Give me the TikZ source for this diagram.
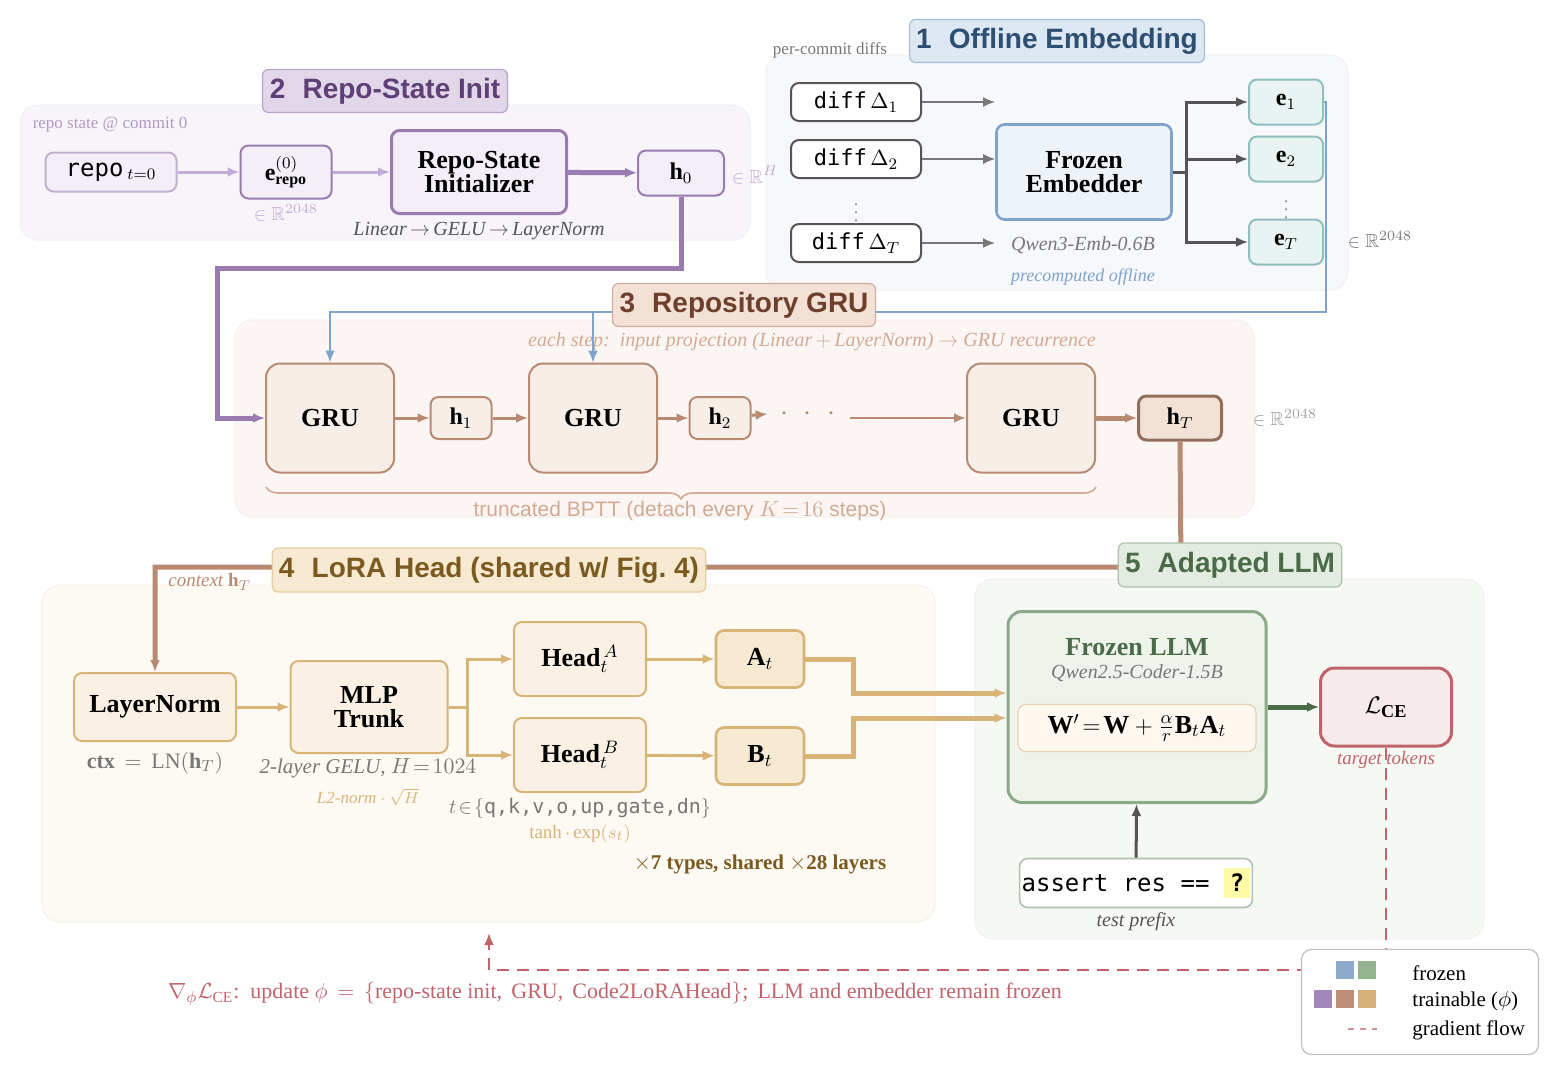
\documentclass[tikz,border=0pt]{standalone}
\usepackage{fontspec}
\usepackage{amsmath,amssymb}
\setmainfont{Liberation Serif}
\setsansfont{Liberation Sans}
\setmonofont{DejaVu Sans Mono}
\usetikzlibrary{arrows.meta,decorations.pathreplacing}
\newcommand\fsz[1]{\fontsize{#1}{#1}\selectfont}
\definecolor{pu}{HTML}{9A7BB0}\definecolor{puF}{HTML}{F3EEF7}\definecolor{puL}{HTML}{C2ABD6}\definecolor{puD}{HTML}{5E3F78}\definecolor{puBG}{HTML}{F8F5FA}
\definecolor{bl}{HTML}{7FA3C9}\definecolor{blF}{HTML}{EEF3F8}\definecolor{blD}{HTML}{2D4F73}\definecolor{blBG}{HTML}{F6F8FB}\definecolor{blT}{HTML}{DDE8F2}
\definecolor{br}{HTML}{B98A72}\definecolor{brF}{HTML}{F8EEE8}\definecolor{brT}{HTML}{F3E1D6}\definecolor{brD}{HTML}{6E3F2D}\definecolor{brL}{HTML}{D3A993}\definecolor{brBG}{HTML}{FBF6F3}
\definecolor{go}{HTML}{D8B477}\definecolor{goF}{HTML}{FAF1E4}\definecolor{goT}{HTML}{F8EAD2}\definecolor{goD}{HTML}{7A5A1F}\definecolor{goBG}{HTML}{FDFAF3}
\definecolor{gr}{HTML}{8AAA88}\definecolor{grD}{HTML}{4A6B47}\definecolor{grF}{HTML}{EEF3EC}\definecolor{grBG}{HTML}{F5F8F3}\definecolor{grT}{HTML}{E3ECE0}
\definecolor{rd}{HTML}{C0646C}\definecolor{rdF}{HTML}{F7EAEA}
\definecolor{te}{HTML}{8FBFBF}\definecolor{teF}{HTML}{E8F3F2}
\definecolor{gy}{HTML}{777777}\definecolor{dg}{HTML}{555555}
\definecolor{lq1}{HTML}{8EAACB}\definecolor{lq2}{HTML}{94B38F}\definecolor{lq3}{HTML}{A287B8}\definecolor{lq4}{HTML}{C08E78}\definecolor{lq5}{HTML}{D6B179}
\begin{document}
\begin{tikzpicture}[x=0.5pt,y=-0.5pt,
 bx/.style={draw,rounded corners=4pt,line width=1pt,align=center,inner sep=1pt},
 sec/.style={rounded corners=9pt,line width=0.5pt},
 ttl/.style={draw,rounded corners=3pt,line width=0.6pt,font=\sffamily\bfseries\fsz{14}},
 lbl/.style={inner sep=0pt,align=center},
 arr/.style={-{Latex[length=6pt,width=5pt]},line width=1pt},
 big/.style={font=\bfseries\fsz{13}},
]
\useasboundingbox[fill=white] (0,0) rectangle (1558,1076);
% section backgrounds
\path[sec,fill=blBG,draw=blF!70!gray!30] (766,55) rectangle (1348,290);
\path[sec,fill=puBG,draw=puF!70!gray!30] (20,105) rectangle (750,240);
\path[sec,fill=brBG,draw=brF!70!gray!30] (235,320) rectangle (1254,517);
\path[sec,fill=goBG,draw=goF!70!gray!30] (42,585) rectangle (935,922);
\path[sec,fill=grBG,draw=grF!70!gray!30] (975,579) rectangle (1484,939);

% ---------- section 1
\node[lbl,text=gy,font=\fsz{8.5}] (pcd) at (830,50) {per-commit diffs};
\foreach \n/\y/\s in {d1/102/1,d2/159/2,dT/243/T}
 \node[bx,draw=dg,fill=white,minimum width=65pt,minimum height=19pt,font=\ttfamily\fsz{11}] (\n) at (856,\y) {diff\,$\Delta_{\s}$};
\node[lbl,text=gy,font=\fsz{8}] (vd1) at (856,207) {$\vdots$};
\node[bx,draw=bl,fill=blF,line width=1.3pt,minimum width=87.5pt,minimum height=47.5pt,big] (emb) at (1084,172) {Frozen\\[-1pt]Embedder};
\coordinate (d1e) at (995,102); \coordinate (dTe) at (995,243);
\draw[arr,gy,line width=0.8pt] (d1) -- (d1e);
\draw[arr,gy,line width=0.8pt] (d2) -- (d2.east -| emb.west);
\draw[arr,gy,line width=0.8pt] (dT) -- (dTe);
\node[lbl,text=gy,font=\itshape\fsz{10}] (qe) at (1083,245) {Qwen3-Emb-0.6B};
\node[lbl,text=bl,font=\itshape\fsz{9}] (pre) at (1083,277) {precomputed offline};
\foreach \n/\y/\s in {e1/102/1,e2/159/2,eT/242/T}
 \node[bx,draw=te,fill=teF,minimum width=37pt,minimum height=22.5pt,font=\fsz{12}] (\n) at (1286,\y) {$\mathbf{e}_{\s}$};
\node[lbl,text=gy,font=\fsz{8}] (vd2) at (1286,204) {$\vdots$};
\coordinate (fk1) at (1186,172);
\draw[line width=1.5pt,dg] (emb.east) -- (fk1);
\foreach \n in {e1,e2,eT} \draw[arr,dg,line width=1.5pt] (fk1) |- (\n.west);
\node[lbl,text=gy,font=\fsz{9.5}] (r2048a) at (1380,240) {$\in\mathbb{R}^{2048}$};
\node[ttl,fill=blT,draw=bl!70,text=blD,minimum width=147pt,minimum height=21.5pt] (t1) at (1057,41) {1\,\, Offline Embedding};

% ---------- section 2
\node[lbl,text=puL!90!black,font=\fsz{8.5}] (rsc) at (110,125) {repo state @ commit 0};
\node[bx,draw=pu!60,fill=puF,minimum width=65.5pt,minimum height=19.5pt,font=\fsz{12}] (repo) at (111,172) {\texttt{repo}\,$_{t=0}$};
\node[bx,draw=pu,fill=puF,minimum width=45.5pt,minimum height=26.5pt,font=\fsz{12}] (er) at (286,172) {$\mathbf{e}^{(0)}_{\textbf{repo}}$};
\node[bx,draw=pu,fill=puF,line width=1.5pt,minimum width=87.5pt,minimum height=41.5pt,big] (init) at (479,172) {Repo-State\\[-1pt]Initializer};
\node[bx,draw=pu,fill=puF,minimum width=43pt,minimum height=22.5pt,font=\fsz{12}] (h0) at (681,173) {$\mathbf{h}_0$};
\node[lbl,text=puL,font=\fsz{9.5}] (rH) at (755,175) {$\in\mathbb{R}^H$};
\node[lbl,text=puL,font=\fsz{9.5}] (r2048b) at (286,213) {$\in\mathbb{R}^{2048}$};
\node[lbl,text=dg,font=\itshape\fsz{10}] (lgl) at (479,231) {Linear$\,\to\,$GELU$\,\to\,$LayerNorm};
\draw[arr,puL,line width=1.5pt] (repo) -- (er);
\draw[arr,puL,line width=1.5pt] (er) -- (init);
\draw[arr,pu,line width=2.5pt] (init) -- (h0);
\node[ttl,fill=puF!80!pu,draw=pu!70,text=puD,minimum width=122.5pt,minimum height=21.5pt] (t2) at (385,91) {2\,\, Repo-State Init};

% ---------- section 3
\node[lbl,text=brL,font=\itshape\fsz{10}] (esl) at (812,342) {each step:\, input projection (Linear$\,+\,$LayerNorm) $\to$ GRU recurrence};
\foreach \n/\x in {g1/330,g2/593,g3/1031}
 \node[bx,draw=br,fill=brF,minimum width=64pt,minimum height=54.5pt,big,rounded corners=7pt] (\n) at (\x,418) {GRU};
\node[bx,draw=br,fill=brF,minimum width=30.5pt,minimum height=21pt,font=\fsz{12}] (h1) at (461,418) {$\mathbf{h}_1$};
\node[bx,draw=br,fill=brF,minimum width=30.5pt,minimum height=21pt,font=\fsz{12}] (h2) at (720,418) {$\mathbf{h}_2$};
\node[bx,draw=br!80!black,fill=brT,line width=1.5pt,minimum width=41.5pt,minimum height=22pt,font=\fsz{12}] (hT) at (1180,418) {$\mathbf{h}_T$};
\node[lbl,text=br,font=\fsz{14}] (dots) at (808,414) {$\cdot\,\,\cdot\,\,\cdot$};
\coordinate (dse) at (850,418);
\draw[arr,br,line width=1.5pt] (g1) -- (h1);
\draw[arr,br,line width=1.5pt] (h1) -- (g2);
\draw[arr,br,line width=1.5pt] (g2) -- (h2);
\draw[arr,br,line width=1.5pt] (h2) -- ([xshift=-6pt]dots.west);
\draw[arr,br,line width=1.2pt] (dse) -- (g3);
\draw[arr,br,line width=2.5pt] (g3) -- (hT);
\node[lbl,text=gy!70,font=\fsz{9.5}] (r2048c) at (1285,418) {$\in\mathbb{R}^{2048}$};
\draw[decorate,decoration={brace,mirror,amplitude=6pt},brL,line width=0.8pt] (266,487) -- (1096,487);
\node[lbl,text=brL,font=\sffamily\fsz{10.5}] (bptt) at (680,511) {truncated BPTT (detach every $K\!=\!16$ steps)};
% blue routing
\coordinate (bc1) at (1325,312); \coordinate (bc2) at (593,312);
\draw[bl,line width=1.3pt] (e1.east) -- ++(2,0) |- (bc1) -- (bc2);
\draw[arr,bl,line width=1.3pt] (bc2) -| (g1.north);
\draw[arr,bl,line width=0.8pt] (bc2) -- (g2.north);
% purple h0 -> GRU1
\draw[arr,pu,line width=2.5pt] (h0.south) -- (681,268) -- (217,268) |- (g1.west);
\node[ttl,fill=brT,draw=br!70,text=brD,minimum width=131.5pt,minimum height=21.5pt] (t3) at (744,305) {3\,\, Repository GRU};

% ---------- section 4
\node[bx,draw=go,fill=goF,minimum width=81pt,minimum height=34pt,big] (ln) at (155,707) {LayerNorm};
\node[lbl,text=gy,font=\fsz{11}] (ctx) at (155,763) {$\mathbf{ctx}\,=\,\mathrm{LN}(\mathbf{h}_T)$};
\node[bx,draw=go,fill=goF,minimum width=78.5pt,minimum height=46pt,big] (mlp) at (369,707) {MLP\\[-1pt]Trunk};
\node[lbl,text=gy,font=\itshape\fsz{10.5}] (gl) at (368,768) {2-layer GELU, $H\!=\!1024$};
\node[lbl,text=go,font=\itshape\fsz{8.5}] (l2) at (368,797) {L2-norm $\cdot$ $\sqrt{H}$};
\node[bx,draw=go,fill=goF,minimum width=66pt,minimum height=37pt,big] (hA) at (580,659) {Head$_t^{\,A}$};
\node[bx,draw=go,fill=goF,minimum width=66pt,minimum height=37pt,big] (hB) at (580,755) {Head$_t^{\,B}$};
\node[bx,draw=go,fill=goT,line width=1.3pt,minimum width=44pt,minimum height=28.5pt,font=\fsz{13}] (At) at (760,659) {$\mathbf{A}_t$};
\node[bx,draw=go,fill=goT,line width=1.3pt,minimum width=44pt,minimum height=28.5pt,font=\fsz{13}] (Bt) at (760,756) {$\mathbf{B}_t$};
\node[lbl,text=gy,font=\fsz{10}] (tset) at (580,808) {$t\!\in\!\{$\texttt{q,k,v,o,up,gate,dn}$\}$};
\node[lbl,text=go,font=\fsz{9.5}] (tanh) at (580,834) {$\tanh\cdot\exp(s_t)$};
\node[lbl,text=goD,font=\bfseries\fsz{10.5}] (x7) at (760,864) {$\times$7 types, shared $\times$28 layers};
\draw[arr,go,line width=1.5pt] (ln) -- (mlp);
\coordinate (fk2) at (467,707);
\draw[go,line width=1.5pt] (mlp) -- (fk2);
\draw[arr,go,line width=1.5pt] (fk2) |- (hA.west);
\draw[arr,go,line width=1.5pt] (fk2) |- (hB.west);
\draw[arr,go,line width=1.5pt] (hA) -- (At);
\draw[arr,go,line width=1.5pt] (hB) -- (Bt);
% hT -> LayerNorm
\draw[arr,br,line width=2.5pt] (hT.south) -- (1181,567) -- (155,567) -- (ln.north);
\node[lbl,text=br,font=\itshape\fsz{9.5},anchor=west] (ctxh) at (168,582) {context $\mathbf{h}_T$};
\node[ttl,fill=goT,draw=go!70,text=goD,minimum width=216pt,minimum height=22pt] (t4) at (489,570) {4\,\, LoRA Head (shared w/ Fig.\ 4)};

% ---------- section 5
\node[bx,draw=gr,fill=grF,line width=1.5pt,minimum width=129pt,minimum height=95.5pt,rounded corners=7pt] (llm) at (1137,707) {};
\node[lbl,text=grD,font=\bfseries\fsz{13}] (fl) at (1137,647) {Frozen LLM};
\node[lbl,text=gy,font=\itshape\fsz{10}] (qc) at (1137,673) {Qwen2.5-Coder-1.5B};
\node[bx,draw=go!60,fill=goF!60,line width=0.6pt,minimum width=119pt,minimum height=23.5pt,font=\fsz{13}] (form) at (1137,728) {$\mathbf{W}'\!=\!\mathbf{W}+\frac{\alpha}{r}\mathbf{B}_t\mathbf{A}_t$};
\draw[arr,go,line width=2.5pt] (At.east) -- (853,659) -- (853,693) -- (llm.west |- 0,693);
\draw[arr,go,line width=2.5pt] (Bt.east) -- (853,756) -- (853,718) -- (llm.west |- 0,718);
\node[bx,draw=rd,fill=rdF,line width=1.5pt,minimum width=65.5pt,minimum height=39pt,font=\fsz{13},rounded corners=7pt] (lce) at (1386,707) {$\mathcal{L}_{\textbf{CE}}$};
\draw[arr,grD,line width=2.5pt] (llm) -- (lce);
\node[lbl,text=rd,font=\itshape\fsz{9.5}] (tt) at (1386,760) {target tokens};
\node[bx,draw=gr!70,fill=white,line width=0.8pt,minimum width=114.5pt,minimum height=24.5pt,font=\ttfamily\fsz{12}] (asr) at (1136,883) {assert res == \colorbox{yellow!35}{\textbf{?}}};
\draw[arr,dg,line width=1.5pt] (asr) -- (llm);
\node[lbl,text=dg,font=\itshape\fsz{10}] (tp) at (1136,922) {test prefix};
\node[ttl,fill=grT,draw=gr!70,text=grD,minimum width=111.5pt,minimum height=22pt] (t5) at (1230,565) {5\,\, Adapted LLM};

% gradient flow
\coordinate (gc1) at (1386,970); \coordinate (gc2) at (489,970); \coordinate (gc3) at (489,933);
\draw[rd,line width=1.3pt,dashed,dash pattern=on 6pt off 4pt] (lce.south) -- (gc1) -- (gc2);
\draw[arr,rd,line width=1.3pt,dashed,dash pattern=on 6pt off 4pt] (gc2) -- (gc3);
\node[lbl,text=rd,font=\fsz{11}] (grad) at (615,994) {$\nabla_\phi\mathcal{L}_{\mathrm{CE}}$:\, update $\phi\,=\,\{$repo-state init,\, GRU,\, Code2LoRAHead$\}$;\, LLM and embedder remain frozen};

% legend
\node[draw=gray!50,fill=white,rounded corners=5pt,minimum width=118.5pt,minimum height=52.5pt,line width=0.6pt] (leg) at (1420,1002) {};
\foreach \n/\x/\y/\c in {q1/1345/970/lq1,q2/1367/970/lq2,q3/1323/999/lq3,q4/1345/999/lq4,q5/1367/999/lq5}
 \node[fill=\c,minimum size=9pt,inner sep=0pt] (\n) at (\x,\y) {};
\coordinate (lg1) at (1348,1029); \coordinate (lg2) at (1377,1029);
\draw[rd!70,line width=0.8pt,dash pattern=on 3pt off 3pt] (lg1) -- (lg2);
\node[lbl,anchor=west,font=\fsz{10.5}] (lf) at (1412,973) {frozen};
\node[lbl,anchor=west,font=\fsz{10.5}] (lt) at (1412,1001) {trainable ($\phi$)};
\node[lbl,anchor=west,font=\fsz{10.5}] (lgf) at (1412,1030) {gradient flow};
\end{tikzpicture}
\end{document}
